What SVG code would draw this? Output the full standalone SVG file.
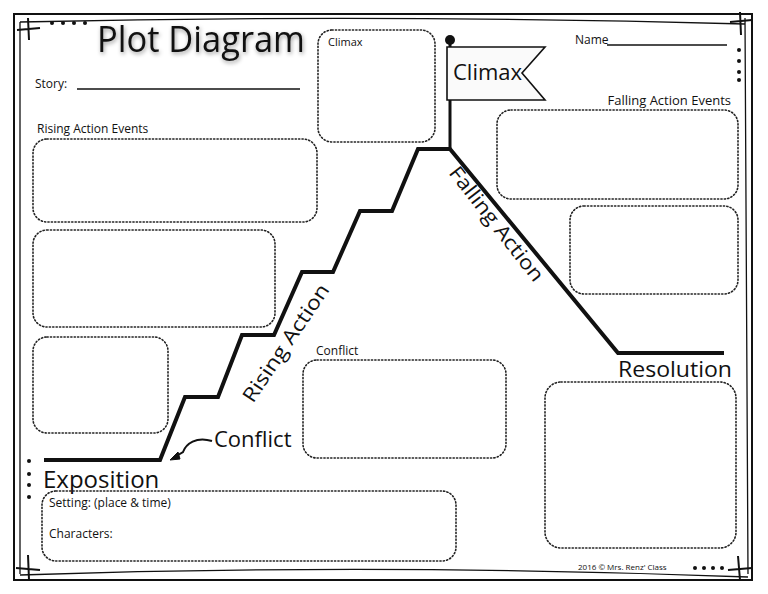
<svg xmlns="http://www.w3.org/2000/svg" width="768" height="594" viewBox="0 0 768 594">
<style>
.box{fill:none;stroke:#222;stroke-width:1.6;stroke-dasharray:1.2 2.2;stroke-linecap:round}
text{font-family:"Open Sans","Liberation Sans",sans-serif;fill:#111}
.s{font-size:12px}
.b{font-size:22px}
.dot{fill:#111}
</style>
<rect width="768" height="594" fill="#fff"/>
<g id="frame" fill="none" stroke="#111">
<rect x="14" y="14" width="738" height="566" stroke-width="2"/>
<path d="M20 22 Q380 14 745 24 M20 22 L20 574 M745 18 L748 574 M20 575 Q380 563 748 577" stroke-width="1.3"/>
<path d="M17 30 L40 28 M28 18 L29 40 M730 22 L752 20 M740 12 L741 35 M16 568 L40 570 M28 555 L29 580 M728 570 L752 568 M738 556 L740 580" stroke-width="2"/>
</g>
<g id="dots" class="dot">
<circle cx="52" cy="23" r="2"/><circle cx="63" cy="23" r="2"/><circle cx="74" cy="23" r="2"/><circle cx="85" cy="23" r="2"/>
<circle cx="739" cy="50" r="2"/><circle cx="739" cy="61" r="2"/><circle cx="739" cy="72" r="2"/><circle cx="739" cy="80" r="2"/>
<circle cx="29" cy="461" r="2"/><circle cx="29" cy="474" r="2"/><circle cx="29" cy="485" r="2"/><circle cx="29" cy="497" r="2"/>
<circle cx="695" cy="568" r="2"/><circle cx="704" cy="568" r="2"/><circle cx="713" cy="568" r="2"/><circle cx="722" cy="568" r="2"/>
</g>
<g id="header">
<text x="97" y="52" font-size="36" textLength="208" lengthAdjust="spacingAndGlyphs" style="filter:drop-shadow(1px 2px 2px #999)">Plot Diagram</text>
<text x="35" y="88" class="s">Story:</text>
<line x1="77" y1="89" x2="300" y2="89" stroke="#111" stroke-width="1.3"/>
<text x="575" y="44" class="s">Name</text>
<line x1="607" y1="45" x2="727" y2="45" stroke="#111" stroke-width="1.3"/>
<text x="578" y="570" font-size="8">2016 © Mrs. Renz' Class</text>
</g>
<g id="connectors" fill="none" stroke="#111">
<path d="M44 460 L160 460 L185 397 L218 397 L242 335 L274 335 L302 272 L333 272 L360 211 L392 211 L418 149 L450 149 L618 353 L724 353" stroke-width="4" stroke-linejoin="miter"/>
<line x1="450" y1="40" x2="450" y2="149" stroke-width="3"/>
<path d="M212 441 C196 436 186 444 183 452 L173 458" stroke-width="2"/>
<path d="M170 460 L178 452 L180 459 Z" fill="#111" stroke-width="1"/>
</g>
<g id="flag">
<circle cx="450" cy="40" r="5" fill="#111"/>
<path d="M447 47 L545 47 L522 73 L545 100 L447 100 Z" fill="#fafafa" stroke="#111" stroke-width="1.6"/>
<text x="453" y="80" class="b">Climax</text>
</g>
<g id="climax-box"><rect class="box" x="318" y="30" width="117" height="112" rx="14"/><text x="328" y="46" font-size="11">Climax</text></g>
<g id="rising1"><text x="37" y="133" class="s">Rising Action Events</text><rect class="box" x="33" y="139" width="284" height="83" rx="14"/></g>
<g id="rising2"><rect class="box" x="33" y="230" width="242" height="97" rx="14"/></g>
<g id="rising3"><rect class="box" x="33" y="337" width="135" height="96" rx="14"/></g>
<g id="conflict-box"><text x="316" y="355" class="s">Conflict</text><rect class="box" x="303" y="360" width="203" height="98" rx="14"/></g>
<g id="falling1"><text x="731" y="105" font-size="13" text-anchor="end">Falling Action Events</text><rect class="box" x="497" y="110" width="241" height="89" rx="14"/></g>
<g id="falling2"><rect class="box" x="570" y="206" width="168" height="88" rx="14"/></g>
<g id="resolution"><text x="618" y="377" class="b" textLength="114" lengthAdjust="spacingAndGlyphs">Resolution</text><rect class="box" x="545" y="382" width="191" height="166" rx="16"/></g>
<g id="exposition"><text x="43" y="488" font-size="24">Exposition</text><rect class="box" x="42" y="491" width="414" height="70" rx="14"/>
<text x="49" y="507" class="s">Setting: (place &amp; time)</text><text x="49" y="538" class="s">Characters:</text></g>
<g id="labels">
<text x="214" y="447" class="b">Conflict</text>
<text transform="translate(253,404) rotate(-56)" font-size="20" textLength="138" lengthAdjust="spacingAndGlyphs">Rising Action</text>
<text transform="translate(448,173) rotate(52)" font-size="20" textLength="140" lengthAdjust="spacingAndGlyphs">Falling Action</text>
</g>
</svg>
